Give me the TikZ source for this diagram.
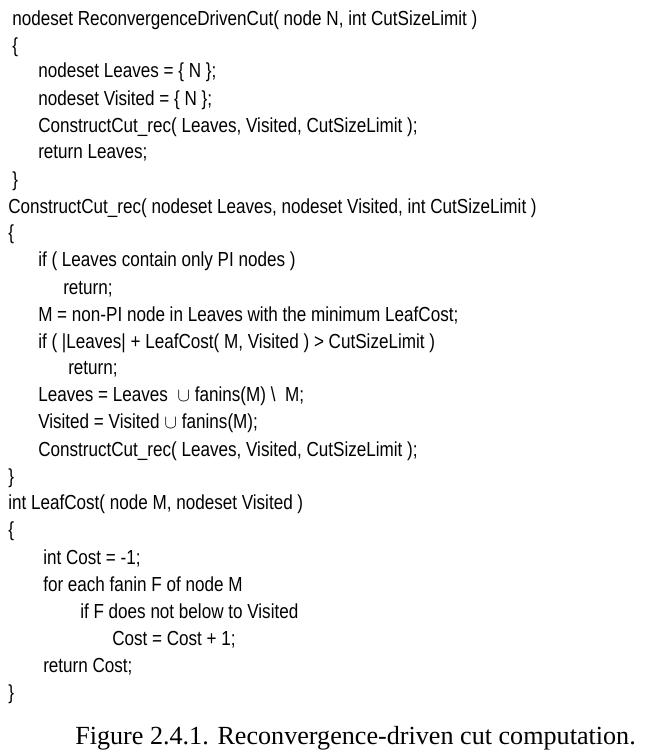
\documentclass[tikz,border=0pt]{standalone}
\usepackage{fontspec}
\setmainfont{Liberation Sans}[FakeStretch=0.84]
\newfontfamily\capfont{Liberation Serif}
\begin{document}
\begin{tikzpicture}[x=0.75pt,y=-0.75pt,
  code/.style={anchor=base west,inner sep=0pt,font=\fontsize{15.25pt}{16pt}\selectfont}]
\useasboundingbox (0,0) rectangle (651,753);
\node[code] (l1) at (12,25) {nodeset ReconvergenceDrivenCut( node N, int CutSizeLimit )};
\node[code] (l2) at (12,52) {\{};
\node[code] (l3) at (38,77) {nodeset Leaves = \{ N \};};
\node[code] (l4) at (38,105) {nodeset Visited = \{ N \};};
\node[code] (l5) at (38,132) {ConstructCut\_rec( Leaves, Visited, CutSizeLimit );};
\node[code] (l6) at (38,158) {return Leaves;};
\node[code] (l7) at (12,186) {\}};
\node[code] (l8) at (8,213) {ConstructCut\_rec( nodeset Leaves, nodeset Visited, int CutSizeLimit )};
\node[code] (l9) at (8,239) {\{};
\node[code] (l10) at (38,266) {if ( Leaves contain only PI nodes )};
\node[code] (l11) at (63,294) {return;};
\node[code] (l12) at (38,321) {M = non-PI node in Leaves with the minimum LeafCost;};
\node[code] (l13) at (38,348) {if ( |Leaves| + LeafCost( M, Visited ) > CutSizeLimit )};
\node[code] (l14) at (68,374) {return;};
\node[code] (l15) at (38,401) {Leaves = Leaves \ $\cup$ fanins(M) \textbackslash\ \ M;};
\node[code] (l16) at (38,428) {Visited = Visited $\cup$ fanins(M);};
\node[code] (l17) at (38,456) {ConstructCut\_rec( Leaves, Visited, CutSizeLimit );};
\node[code] (l18) at (8,483) {\}};
\node[code] (l19) at (8,509) {int LeafCost( node M, nodeset Visited )};
\node[code] (l20) at (8,536) {\{};
\node[code] (l21) at (43,564) {int Cost = -1;};
\node[code] (l22) at (43,591) {for each fanin F of node M};
\node[code] (l23) at (80,618) {if F does not below to Visited};
\node[code] (l24) at (112,645) {Cost = Cost + 1;};
\node[code] (l25) at (43,672) {return Cost;};
\node[code] (l26) at (8,699) {\}};
\node[anchor=base west,inner sep=0pt,font=\capfont\fontsize{19.6pt}{21pt}\selectfont] (cap) at (75,744) {Figure 2.4.1. Reconvergence-driven cut computation.};
\end{tikzpicture}
\end{document}
